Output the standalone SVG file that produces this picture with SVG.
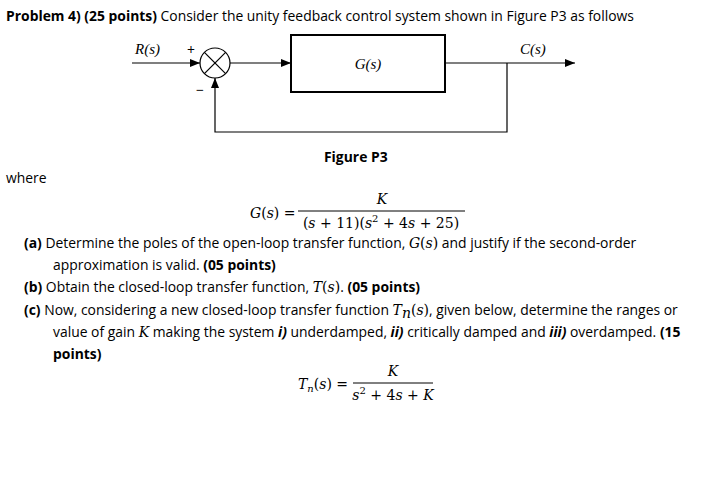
<svg xmlns="http://www.w3.org/2000/svg" width="717" height="480" viewBox="0 0 717 480">
<style>
.t{font-family:"Open Sans","Liberation Sans",sans-serif;font-size:13.9px;fill:#000}
.b{font-weight:bold}
.m{font-family:"Liberation Serif",serif;font-size:15px;fill:#000}
.e{font-family:"DejaVu Serif","Liberation Serif",serif;font-size:14px;fill:#000}
.mi{font-style:italic}
.ln{stroke:#000;stroke-width:1.2;fill:none}
</style>
<defs><marker id="a" markerWidth="10" markerHeight="8" refX="10" refY="4" orient="auto" markerUnits="userSpaceOnUse"><path d="M0,0 L10,4 L0,8 Z" fill="#000"/></marker></defs>
<rect width="717" height="480" fill="#fff"/>
<text class="t" x="6" y="21"><tspan class="b">Problem 4) (25 points)</tspan> Consider the unity feedback control system shown in Figure P3 as follows</text>
<g id="sum"><circle cx="215" cy="63" r="15" class="ln"/><line x1="204.4" y1="52.4" x2="225.6" y2="73.6" class="ln"/><line x1="225.6" y1="52.4" x2="204.4" y2="73.6" class="ln"/></g>
<g id="G"><rect x="291" y="35" width="154" height="57" fill="none" stroke="#000" stroke-width="2"/><text class="m mi" x="368" y="69" text-anchor="middle">G(s)</text></g>
<g id="connectors">
<line x1="132" y1="63" x2="200" y2="63" class="ln" marker-end="url(#a)"/>
<line x1="230" y1="63" x2="291" y2="63" class="ln" marker-end="url(#a)"/>
<line x1="445" y1="63" x2="575" y2="63" class="ln" marker-end="url(#a)"/>
<polyline points="507,63 507,132 215,132 215,78" class="ln" marker-end="url(#a)"/>
</g>
<text class="m mi" x="135" y="54">R(s)</text>
<text class="m mi" x="520" y="54">C(s)</text>
<text class="t" x="187" y="55" font-size="12">+</text>
<text class="t" x="196" y="95">−</text>
<text class="t b" x="324" y="162">Figure P3</text>
<text class="t" x="6" y="183">where</text>
<text class="e" x="250" y="218"><tspan class="mi">G</tspan>(<tspan class="mi">s</tspan>) =</text>
<text class="e mi" x="382" y="204" text-anchor="middle">K</text>
<line x1="298" y1="211" x2="465" y2="211" stroke="#000" stroke-width="1"/>
<text class="e" x="381" y="228" text-anchor="middle">(<tspan class="mi">s</tspan> + 11)(<tspan class="mi">s</tspan><tspan font-size="10" dy="-6">2</tspan><tspan dy="6"> + 4</tspan><tspan class="mi">s</tspan> + 25)</text>
<text class="t" x="24" y="248"><tspan class="b">(a)</tspan> Determine the poles of the open-loop transfer function, <tspan class="e mi">G</tspan><tspan class="e">(</tspan><tspan class="e mi">s</tspan><tspan class="e">)</tspan> and justify if the second-order</text>
<text class="t" x="53" y="270">approximation is valid. <tspan class="b">(05 points)</tspan></text>
<text class="t" x="24" y="292"><tspan class="b">(b)</tspan> Obtain the closed-loop transfer function, <tspan class="e mi">T</tspan><tspan class="e">(</tspan><tspan class="e mi">s</tspan><tspan class="e">)</tspan>. <tspan class="b">(05 points)</tspan></text>
<text class="t" x="24" y="315"><tspan class="b">(c)</tspan> Now, considering a new closed-loop transfer function <tspan class="e mi">T</tspan><tspan class="e mi" font-size="10" dy="3">n</tspan><tspan class="e" dy="-3">(</tspan><tspan class="e mi">s</tspan><tspan class="e">)</tspan>, given below, determine the ranges or</text>
<text class="t" x="53" y="337">value of gain <tspan class="e mi">K</tspan> making the system <tspan class="b" font-style="italic">i)</tspan> underdamped, <tspan class="b" font-style="italic">ii)</tspan> critically damped and <tspan class="b" font-style="italic">iii)</tspan> overdamped. <tspan class="b">(15</tspan></text>
<text class="t b" x="53" y="359">points)</text>
<text class="e" x="298" y="389"><tspan class="mi">T</tspan><tspan class="mi" font-size="10" dy="3">n</tspan><tspan dy="-3">(</tspan><tspan class="mi">s</tspan>) =</text>
<text class="e mi" x="393" y="376" text-anchor="middle">K</text>
<line x1="353" y1="383" x2="433" y2="383" stroke="#000" stroke-width="1"/>
<text class="e" x="393" y="400" text-anchor="middle"><tspan class="mi">s</tspan><tspan font-size="10" dy="-6">2</tspan><tspan dy="6"> + 4</tspan><tspan class="mi">s</tspan> + <tspan class="mi">K</tspan></text>
</svg>
